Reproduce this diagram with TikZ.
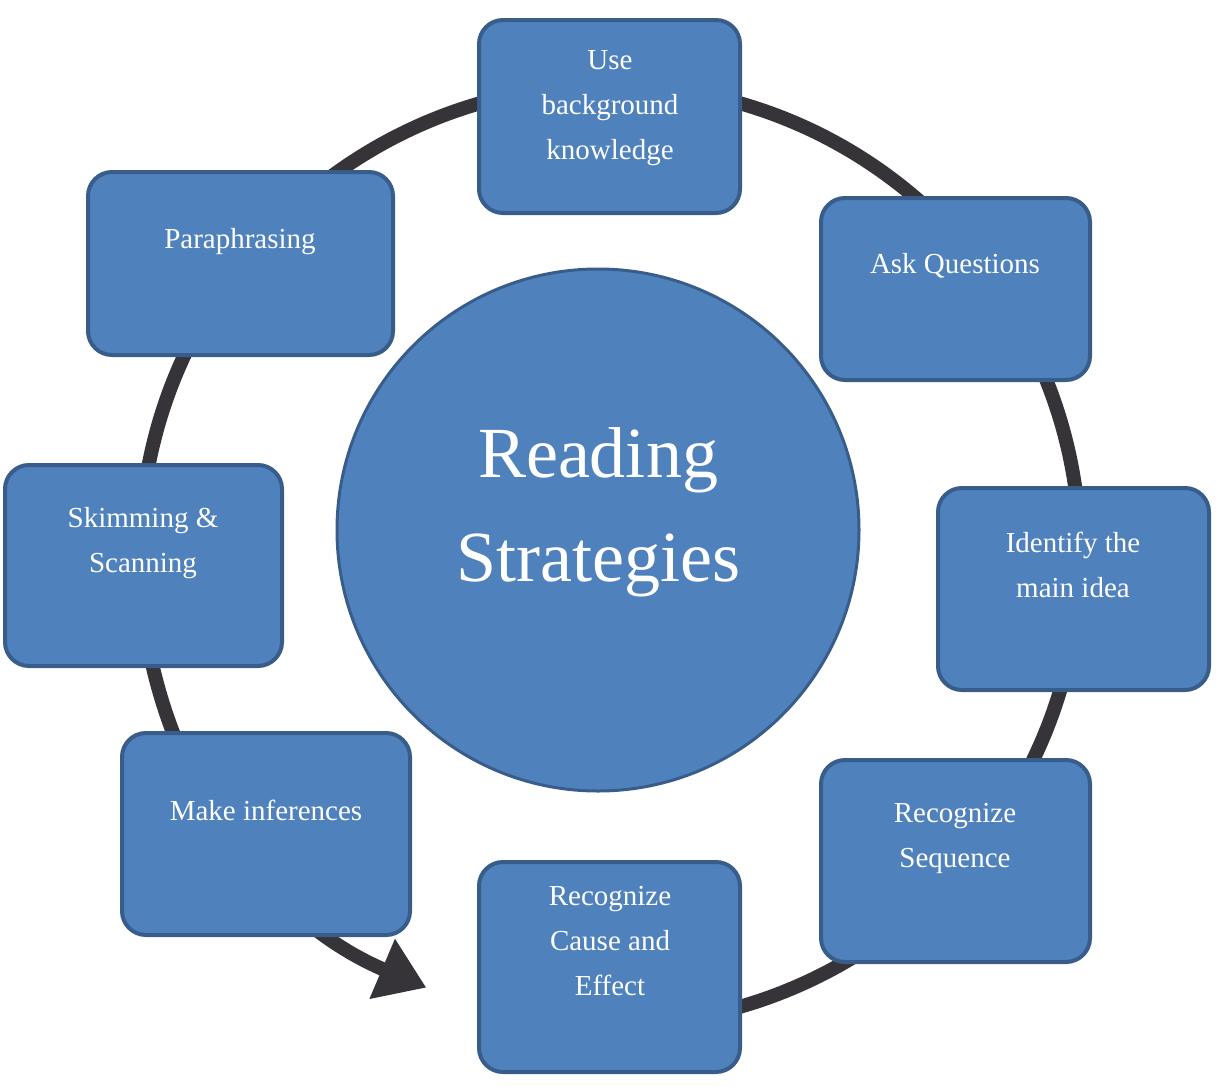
\documentclass[tikz,border=0pt]{standalone}
\usepackage{fontspec}
\setmainfont{Liberation Serif}
\usetikzlibrary{arrows.meta}
\definecolor{bfill}{HTML}{4F81BD}
\definecolor{bdraw}{HTML}{385D8A}
\definecolor{ring}{HTML}{363438}
\tikzset{
  box/.style={draw=bdraw,fill=bfill,line width=4pt,rounded corners=24pt,inner sep=0pt},
  lbl/.style={text=white,align=center,anchor=north,font=\fontsize{29}{45}\selectfont,inner sep=0pt}
}
\newcommand{\mybox}[5]{%
  \node[box,minimum width={#3-#1},minimum height={#4-#2}] (#5) at ({(#1+#3)/2},{(#2+#4)/2}) {};}
\begin{document}
\begin{tikzpicture}[x=1pt,y=-1pt]
\useasboundingbox (0,0) rectangle (1219,1087);
% ring
\draw[ring,line width=14pt,-{Triangle[length=48pt,width=62pt]}]
  (610,555) ++(95:470) arc[start angle=95,end angle=-247,radius=470];
% center circle
\node[circle,draw=bdraw,fill=bfill,line width=3pt,minimum size=522pt] (c) at (598,530) {};
\node[text=white,align=center,font=\fontsize{72}{104}\selectfont] (ct) at (598,512) {Reading\\Strategies};
% boxes
\mybox{479}{20}{740}{213}{b1}
\mybox{821}{198}{1090}{380}{b2}
\mybox{938}{488}{1209}{690}{b3}
\mybox{821}{760}{1090}{962}{b4}
\mybox{479}{862}{740}{1072}{b5}
\mybox{122}{733}{410}{935}{b6}
\mybox{5}{465}{282}{666}{b7}
\mybox{88}{172}{393}{355}{b8}
\node[lbl] (t1) at (610,50) {Use\\background\\knowledge};
\node[lbl] (t2) at (955,253) {Ask Questions};
\node[lbl] (t3) at (1073,532) {Identify the\\main idea};
\node[lbl] (t4) at (955,803) {Recognize\\Sequence};
\node[lbl] (t5) at (610,886) {Recognize\\Cause and\\Effect};
\node[lbl] (t6) at (266,800) {Make inferences};
\node[lbl] (t7) at (143,507) {Skimming \&\\Scanning};
\node[lbl] (t8) at (240,228) {Paraphrasing};
\end{tikzpicture}
\end{document}
